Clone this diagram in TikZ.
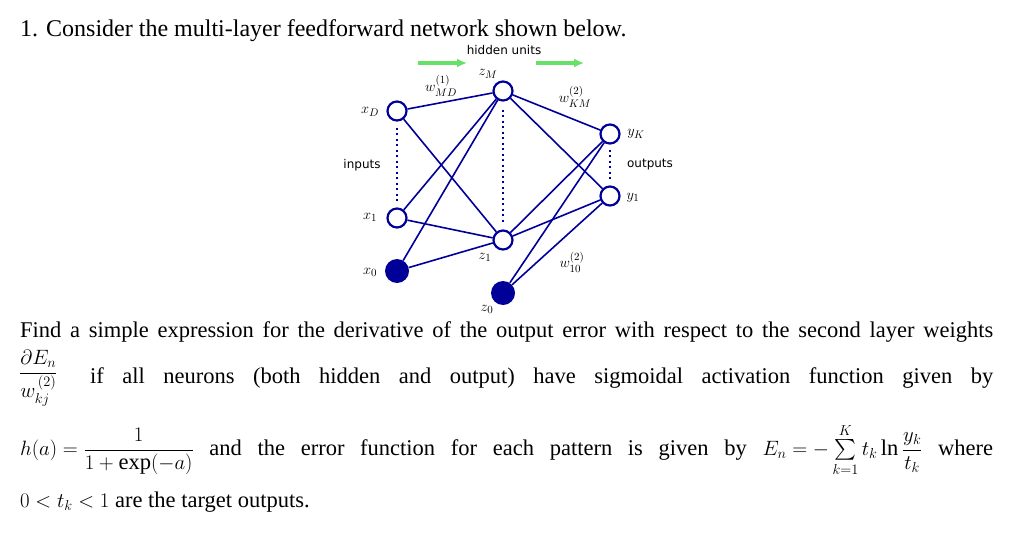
\documentclass[tikz,border=0pt]{standalone}
\usepackage{fontspec}
\setmainfont{Liberation Serif}
\newfontfamily\sanslab{DejaVu Sans}
\usepackage{amsmath}
\usetikzlibrary{calc,arrows.meta}
\begin{document}
\begin{tikzpicture}[x=1pt,y=-1pt,
  unit/.style={circle,draw=blue!60!black,line width=2.2pt,minimum size=19pt,inner sep=0pt},
  bias/.style={circle,fill=blue!60!black,minimum size=24pt,inner sep=0pt},
  edge/.style={blue!60!black,line width=1.6pt},
  dots/.style={blue!60!black,line width=2pt,dash pattern=on 2pt off 3.5pt},
  lab/.style={inner sep=0pt,font=\fontsize{15}{17}\selectfont},
  sl/.style={inner sep=0pt,font=\sanslab\fontsize{12}{14}\selectfont},
  grn/.style={-{Latex[length=10pt,width=9pt]},green!80!black!60!white,line width=3.5pt},
  txt/.style={anchor=west,inner sep=0pt,font=\fontsize{22.5}{26}\selectfont}]
\useasboundingbox (0,0) rectangle (1024,559);
% network
\node[unit] (xD) at (397,111) {};
\node[unit] (x1) at (397,218) {};
\node[bias] (x0) at (397,271) {};
\node[unit] (zM) at (503,91) {};
\node[unit] (z1) at (503,240) {};
\node[bias] (z0) at (503,293) {};
\node[unit] (yK) at (610,134) {};
\node[unit] (y1) at (610,196) {};
\foreach \a/\b in {xD/zM,xD/z1,x1/zM,x1/z1,x0/zM,x0/z1,zM/yK,zM/y1,z1/yK,z1/y1,z0/yK,z0/y1}
  \draw[edge] (\a) -- (\b);
\coordinate (d1) at ($(xD.south)+(0,6)$);
\coordinate (d2) at ($(x1.north)+(0,-6)$);
\coordinate (d3) at ($(zM.south)+(0,8)$);
\coordinate (d4) at ($(z1.north)+(0,-6)$);
\coordinate (d5) at ($(yK.south)+(0,5)$);
\coordinate (d6) at ($(y1.north)+(0,-5)$);
\draw[dots] (d1) -- (d2);
\draw[dots] (d3) -- (d4);
\draw[dots] (d5) -- (d6);
% labels
\node[lab] (lxD) at (370,112) {$x_D$};
\node[lab] (lx1) at (370,217) {$x_1$};
\node[lab] (lx0) at (370,272) {$x_0$};
\node[lab] (lzM) at (488,74) {$z_M$};
\node[lab] (lz1) at (485,257) {$z_1$};
\node[lab] (lz0) at (487,309) {$z_0$};
\node[lab] (lyK) at (636,134) {$y_K$};
\node[lab] (ly1) at (633,198) {$y_1$};
\node[lab] (w1) at (441,86) {$w^{(1)}_{MD}$};
\node[lab] (w2) at (575,97) {$w^{(2)}_{KM}$};
\node[lab] (w3) at (572,262) {$w^{(2)}_{10}$};
\node[sl] (inp) at (362,165) {inputs};
\node[sl] (outp) at (650,165) {outputs};
\node[sl] (hid) at (504,50) {hidden units};
\coordinate (g1) at (418,63); \coordinate (g2) at (467,63);
\coordinate (g3) at (536,63); \coordinate (g4) at (584,63);
\draw[grn] (g1) -- (g2);
\draw[grn] (g3) -- (g4);
% text
\node[txt,font=\fontsize{24}{28}\selectfont] (title) at (20,31) {1. Consider the multi-layer feedforward network shown below.};
\node[txt] (l1) at (20,332) {\parbox{973pt}{\parfillskip=0pt Find a simple expression for the derivative of the output error with respect to the second layer weights\par}};
\node[txt] (frac) at (19,378) {$\dfrac{\partial E_n}{w_{kj}^{\,(2)}}$};
\node[txt] (l2) at (90,378) {\parbox{903pt}{\parfillskip=0pt if all neurons (both hidden and output) have sigmoidal activation function given by\par}};
\node[txt] (l3) at (20,450) {\parbox{973pt}{\parfillskip=0pt \mbox{$h(a)=\dfrac{1}{1+\exp(-a)}$} and the error function for each pattern is given by \mbox{$E_n=-\sum\limits_{k=1}^{K} t_k\ln\dfrac{y_k}{t_k}$} where\par}};
\node[txt] (l4) at (20,502) {$0<t_k<1$ are the target outputs.};
\end{tikzpicture}
\end{document}
